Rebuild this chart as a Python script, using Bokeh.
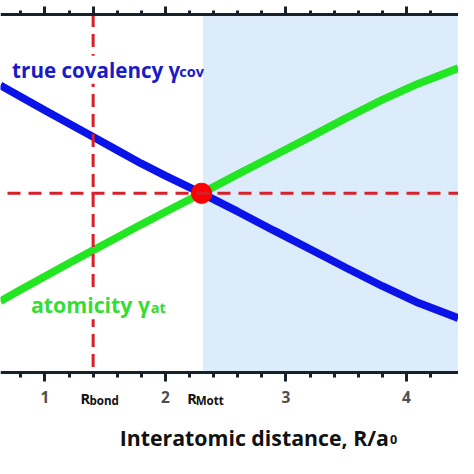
from bokeh.plotting import figure
from bokeh.models import LinearAxis, FixedTicker, Span, BoxAnnotation, Label, Range1d
from bokeh.embed import file_html
from bokeh.resources import INLINE

# ---- data ----
R = [0.63, 0.8, 1.0, 1.2, 1.4, 1.6, 1.8, 2.0, 2.3, 2.6, 2.9, 3.2, 3.5, 3.8, 4.1, 4.43]
gamma_cov = [0.801, 0.769, 0.731, 0.694, 0.657, 0.620, 0.583, 0.549, 0.500,
             0.449, 0.396, 0.344, 0.292, 0.241, 0.194, 0.152]
gamma_at = [0.199, 0.231, 0.268, 0.305, 0.341, 0.377, 0.413, 0.448, 0.500,
            0.553, 0.605, 0.657, 0.710, 0.761, 0.806, 0.849]
R_bond = 1.4
R_mott = 2.3
gamma_cross = 0.5
y_bottom, y_top = 0.0, 1.0
major_ticks = [1, 2, 3, 4]
tick_labels = {1: "1", 2: "2", 3: "3", 4: "4"}
top_major_ticks = [1, 1.4, 2, 3, 4]
minor_ticks = [0.8, 1.2, 1.4, 1.6, 1.8, 2.2, 2.4, 2.6, 2.8, 3.2, 3.4, 3.6, 3.8, 4.2]
top_minor_ticks = [0.8, 1.2, 1.6, 1.8, 2.2, 2.4, 2.6, 2.8, 3.2, 3.4, 3.6, 3.8, 4.2]

# ---- layout (reference is 474 px; figure is 458 px) ----
REF = 474
W = H = 458
S = W / REF

def dx(px):          # reference pixel -> data x
    return 1 + (px - 46) / 124.7

def dy(py):          # reference pixel -> data y
    return (385 - py) / 371

def fs(v):
    return f"{v * S:.1f}px"

p = figure(width=W, height=H, output_backend="svg", toolbar_location=None,
           x_range=Range1d(dx(0), dx(REF)), y_range=Range1d(dy(REF), dy(0)),
           x_axis_location=None, y_axis_location=None,
           min_border_left=0, min_border_right=0, min_border_top=0, min_border_bottom=0)
p.xgrid.visible = False
p.ygrid.visible = False
p.outline_line_color = None
p.background_fill_color = "white"
p.border_fill_color = "white"

AX = "#17212b"

def style_axis(a, major_out, minor_out):
    a.axis_line_width = 3
    a.axis_line_color = AX
    a.major_tick_line_width = 3
    a.minor_tick_line_width = 3
    a.major_tick_line_color = AX
    a.minor_tick_line_color = AX
    a.major_tick_in = 0
    a.minor_tick_in = 0
    a.major_tick_out = major_out
    a.minor_tick_out = minor_out

bottom = LinearAxis(ticker=FixedTicker(ticks=major_ticks, minor_ticks=minor_ticks),
                    fixed_location=y_bottom, major_label_overrides=tick_labels)
style_axis(bottom, 9, 5)
bottom.major_label_text_font = "Open Sans"
bottom.major_label_text_font_style = "bold"
bottom.major_label_text_font_size = fs(16)
bottom.major_label_text_color = "#4f4f4f"
bottom.major_label_standoff = 9
p.add_layout(bottom, "below")

top = LinearAxis(ticker=FixedTicker(ticks=top_major_ticks, minor_ticks=top_minor_ticks),
                 fixed_location=y_top)
style_axis(top, 8, 4)
top.major_label_text_color = None
top.major_label_text_font_size = "1px"
top.major_label_standoff = 0
p.add_layout(top, "above")

# shaded Mott region
p.add_layout(BoxAnnotation(left=R_mott + 0.012, bottom=y_bottom, top=y_top,
                           fill_color="#ddecfa", fill_alpha=1.0,
                           line_color=None, level="underlay"))

# curves
p.line(R, gamma_at, line_color="#22e622", line_width=8 * S)
p.line(R, gamma_cov, line_color="#0a14e8", line_width=8 * S)

# dashed guide lines
RED = "#d8202a"
p.line([R_bond, R_bond], [y_top, y_bottom], line_color=RED, line_width=3,
       line_dash="13 7")
p.add_layout(Span(location=gamma_cross, dimension="width", line_color=RED,
                  line_width=3, line_dash="13 8", line_dash_offset=14))

p.scatter([R_mott], [gamma_cross], size=21 * S, color="#ff0000")

# texts
def lab(text, px, py, size, color, bg=None):
    p.add_layout(Label(x=dx(px), y=dy(py), text=text, text_font="Open Sans",
                       text_font_size=fs(size), text_color=color,
                       text_font_style="bold", background_fill_color=bg,
                       text_baseline="alphabetic", text_align="left"))

BT = "#1a1ac8"
GT = "#36dc36"
lab("true covalency γ", 12, 71.7, 21.3, BT, "white")
lab("cov", 185, 73.5, 15, BT)
lab("atomicity γ", 31.5, 315, 22, GT, "white")
lab("at", 155.5, 318, 15, GT)
lab("R", 82.7, 411.7, 15, "#111111")
lab("bond", 92, 414, 12, "#111111")
lab("R", 193.3, 411.7, 15, "#111111")
lab("Mott", 202, 414, 12, "#111111")
lab("Interatomic distance, R/a", 123.3, 452.7, 22, "#111111")
lab("0", 403, 454, 13, "#111111")

open("out.html", "w").write(file_html(p, INLINE))
